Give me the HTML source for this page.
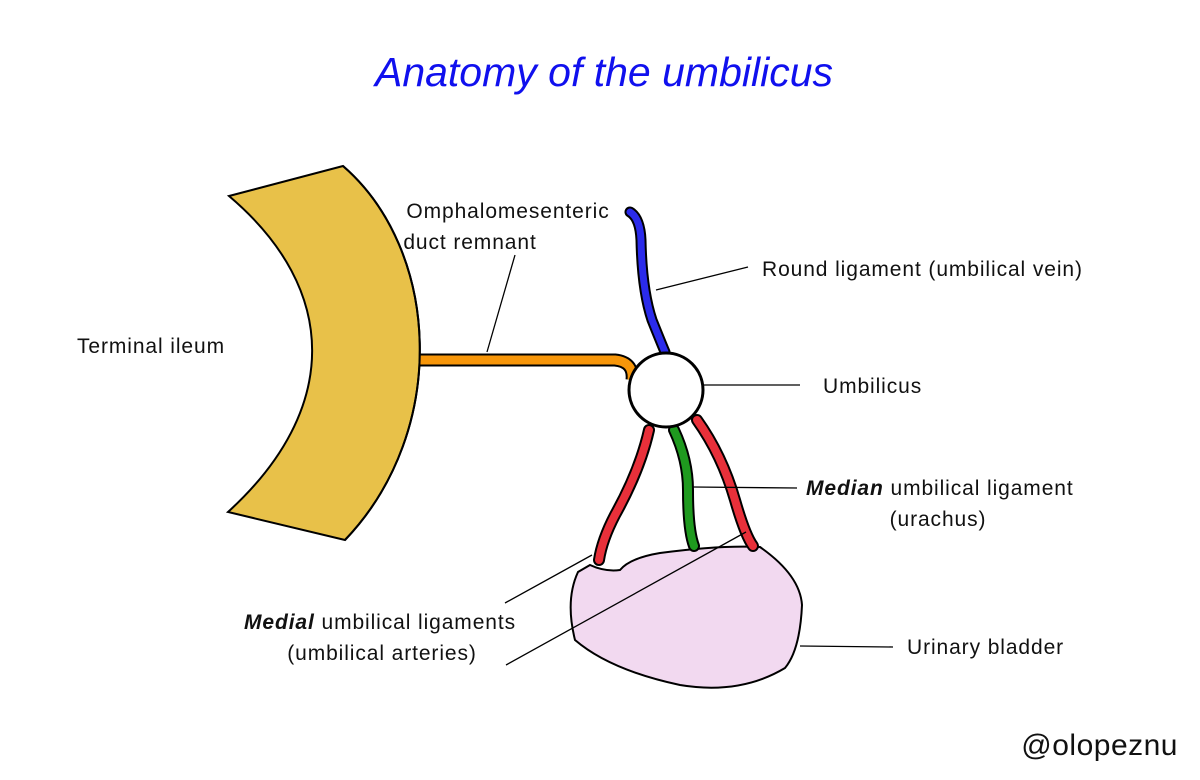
<!DOCTYPE html>
<html><head><style>
body{margin:0;background:#fff;width:1200px;height:780px;overflow:hidden;}
svg{display:block}
text{font-family:"Liberation Sans",sans-serif;font-size:21px;letter-spacing:0.9px;fill:#111}
</style></head><body>
<svg width="1200" height="780" viewBox="0 0 1200 780">
<text x="604" y="86" text-anchor="middle" style="font-size:41px;letter-spacing:0;font-style:italic;fill:#1010ee">Anatomy of the umbilicus</text>
<!-- ileum -->
<path d="M343,166 C440,250 450,430 345,540 L228,512 C340,410 340,290 229,196 Z" fill="#e8c149" stroke="#000" stroke-width="2"/>
<!-- orange duct -->
<path d="M419,360 L615,360 Q634,362 632,380" fill="none" stroke="#000" stroke-width="13"/>
<path d="M419,360 L615,360 Q634,362 632,380" fill="none" stroke="#f7960a" stroke-width="9"/>
<path d="M343,166 C440,250 450,430 345,540" fill="none" stroke="#000" stroke-width="2"/>
<!-- blue -->
<path d="M630,212 Q640,218 641,240 Q642,290 652,320 Q660,340 665,352" fill="none" stroke="#000" stroke-width="11" stroke-linecap="round"/>
<path d="M630,212 Q640,218 641,240 Q642,290 652,320 Q660,340 665,352" fill="none" stroke="#2b2bea" stroke-width="7" stroke-linecap="round"/>
<!-- bladder -->
<path d="M590,565 Q605,572 620,570 Q630,558 660,553 Q720,545 760,547 Q800,575 802,605 Q800,650 785,668 Q740,695 680,685 Q610,670 575,640 Q565,600 578,572 Z" fill="#f2d9f0" stroke="#000" stroke-width="2"/>
<!-- tubes down -->
<g fill="none" stroke-linecap="round">
<path d="M649,430 Q640,470 615,515 Q602,540 599,560" stroke="#000" stroke-width="12"/>
<path d="M649,430 Q640,470 615,515 Q602,540 599,560" stroke="#e8303a" stroke-width="8"/>
<path d="M674,430 Q688,460 688,490 Q688,530 694,546" stroke="#000" stroke-width="12"/>
<path d="M674,430 Q688,460 688,490 Q688,530 694,546" stroke="#1f9a1f" stroke-width="8"/>
<path d="M697,420 Q722,455 735,500 Q745,535 753,546" stroke="#000" stroke-width="12"/>
<path d="M697,420 Q722,455 735,500 Q745,535 753,546" stroke="#e8303a" stroke-width="8"/>
</g>
<circle cx="666" cy="390" r="37" fill="#fff" stroke="#000" stroke-width="3"/>
<!-- leader lines -->
<g stroke="#000" stroke-width="1.3">
<line x1="515" y1="255" x2="487" y2="352"/>
<line x1="748" y1="267" x2="656" y2="290"/>
<line x1="703" y1="385" x2="800" y2="385"/>
<line x1="797" y1="488" x2="693" y2="487"/>
<line x1="505" y1="603" x2="592" y2="555"/>
<line x1="506" y1="665" x2="746" y2="532"/>
<line x1="800" y1="646" x2="893" y2="647"/>
</g>
<text x="508" y="218" text-anchor="middle">Omphalomesenteric</text>
<text x="470" y="249" text-anchor="middle">duct remnant</text>
<text x="77" y="353">Terminal ileum</text>
<text x="762" y="276">Round ligament (umbilical vein)</text>
<text x="823" y="393">Umbilicus</text>
<text x="806" y="495"><tspan style="font-weight:bold;font-style:italic">Median</tspan> umbilical ligament</text>
<text x="938" y="526" text-anchor="middle">(urachus)</text>
<text x="380" y="629" text-anchor="middle"><tspan style="font-weight:bold;font-style:italic">Medial</tspan> umbilical ligaments</text>
<text x="382" y="660" text-anchor="middle">(umbilical arteries)</text>
<text x="907" y="654">Urinary bladder</text>
<text x="1178" y="755" text-anchor="end" style="font-size:30px;letter-spacing:0.5px">@olopeznu</text>
</svg>
</body></html>
